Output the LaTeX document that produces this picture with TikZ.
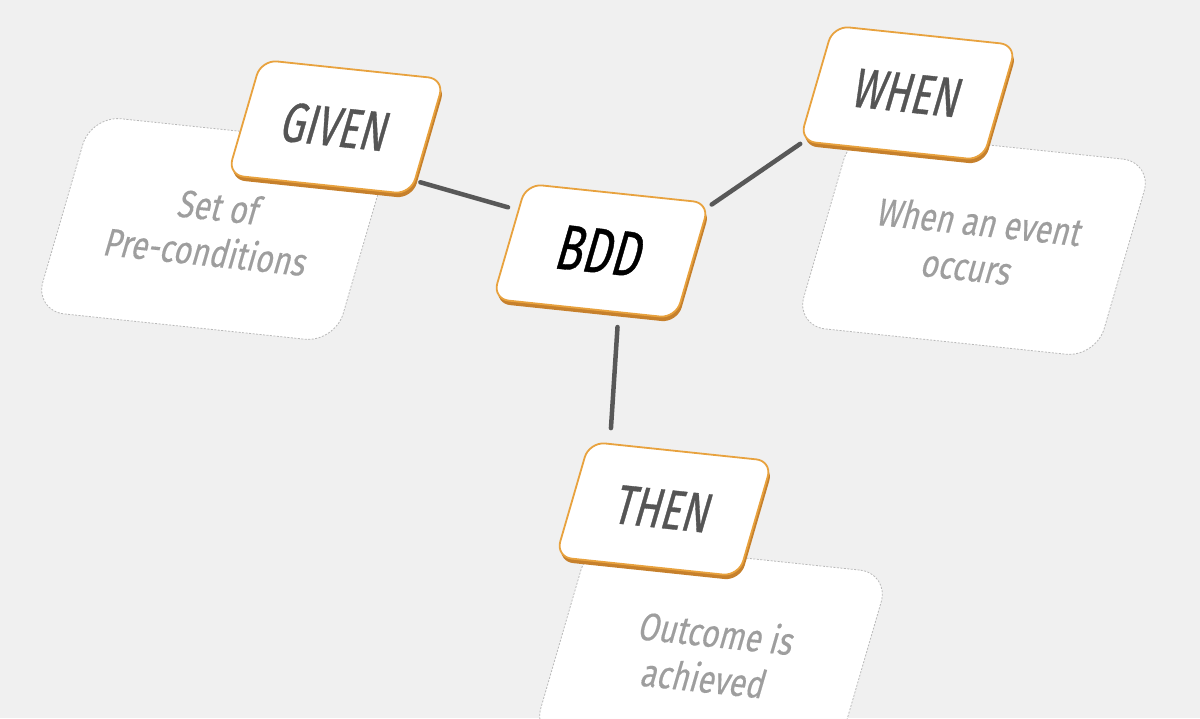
\documentclass[tikz,border=0pt]{standalone}
\usepackage{fontspec}
\newfontfamily\cardfont{Fira Sans}[FakeStretch=0.7,FakeBold=0.6]
\newfontfamily\notefont{Fira Sans}[FakeStretch=0.78,FakeBold=0.3]
\usetikzlibrary{shadows}
\definecolor{bgcol}{RGB}{240,240,240}
\definecolor{cardline}{RGB}{232,162,62}
\definecolor{cardshade}{RGB}{198,128,44}
\definecolor{linkcol}{RGB}{88,88,88}
\definecolor{labelcol}{RGB}{85,85,85}
\definecolor{notecol}{RGB}{158,158,158}
\definecolor{noteline}{RGB}{185,185,185}

\begin{document}
\begin{tikzpicture}[x=1pt,y=1pt,
   tilt/.style={rotate=-6,xslant=0.18},
   card/.style={tilt,draw=cardline,line width=1.8pt,fill=white,rounded corners=16pt,
     minimum width=184pt,minimum height=118pt,inner sep=0pt,text=labelcol,
     font=\cardfont\fontsize{56}{64}\selectfont,
     drop shadow={shadow xshift=1.5pt,shadow yshift=-4.5pt,fill=cardshade,opacity=1}},
   note/.style={tilt,draw=noteline,dash pattern=on 2pt off 1.5pt,line width=0.8pt,
     fill=white,rounded corners=30pt,minimum width=302pt,minimum height=200pt,
     inner sep=0pt,align=center,text=notecol,font=\notefont\fontsize{39}{46}\selectfont},
   link/.style={draw=linkcol,line width=4.5pt,line cap=round}]
   \clip (0,0) rectangle (1200,718);
   \fill[bgcol] (0,0) rectangle (1200,718);
   % description boxes
   \node[note] (givennote) at (213,489) {Set of\\Pre-conditions};
   \node[note] (whennote) at (974,474) {When an event\\occurs};
   \node[note] (thennote) at (711,63) {Outcome is\\achieved};
   % cards
   \node[card] (given) at (336,591) {GIVEN};
   \node[card,text=black,font=\cardfont\fontsize{64}{70}\selectfont] (bdd) at (601,467) {BDD};
   \node[card] (when) at (908,625) {WHEN};
   \node[card] (then) at (664,209) {THEN};
   % links
   \draw[link,shorten <=5pt,shorten >=10pt] (given.-26) -- (bdd.161);
   \draw[link,shorten <=3pt,shorten >=3pt] (bdd.31) -- (when.214);
   \draw[link,shorten <=14pt,shorten >=15pt] (bdd.-60) -- (then.140);
\end{tikzpicture}
\end{document}
